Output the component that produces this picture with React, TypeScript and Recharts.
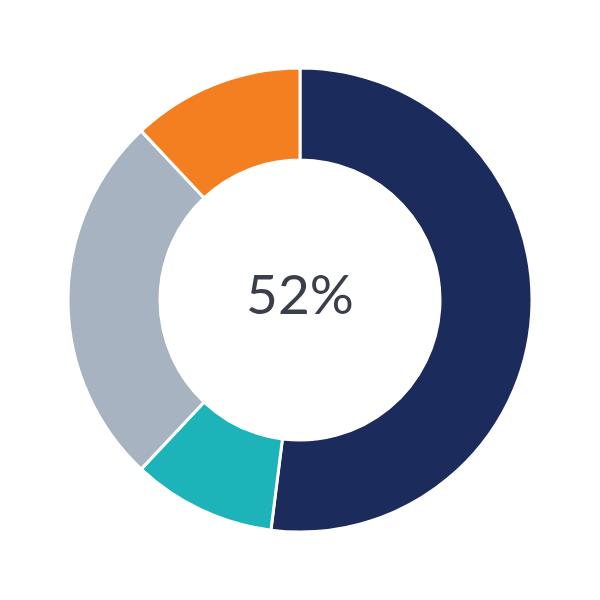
import { PieChart, Pie, Cell } from 'recharts'

const segmentNames = ['Navy', 'Teal', 'Gray', 'Orange']
const segmentValues = [52, 10, 26, 12]
const segmentColors = ['#1b2b5b', '#1cb4b8', '#a8b3c1', '#f47f20']
const centerLabel = '52%'

const data = segmentNames.map((name, i) => ({ name, value: segmentValues[i] }))

export default function App() {
  return (
    <div style={{ position: 'absolute', left: 0, top: 0, width: 600, height: 600, background: '#fff' }}>
      <PieChart width={600} height={600} margin={{ top: 0, right: 0, bottom: 0, left: 0 }}>
        <Pie
          data={data}
          dataKey="value"
          cx={300}
          cy={300}
          innerRadius={140}
          outerRadius={232}
          startAngle={90}
          endAngle={-270}
          stroke="#ffffff"
          strokeWidth={3}
          isAnimationActive={false}
        >
          {data.map((d, i) => (
            <Cell key={d.name} fill={segmentColors[i]} />
          ))}
        </Pie>
        <text
          x={300}
          y={293}
          textAnchor="middle"
          dominantBaseline="central"
          fontFamily="Lato, sans-serif"
          fontSize={55}
          fill="#3a3f4b"
        >
          {centerLabel}
        </text>
      </PieChart>
    </div>
  )
}
